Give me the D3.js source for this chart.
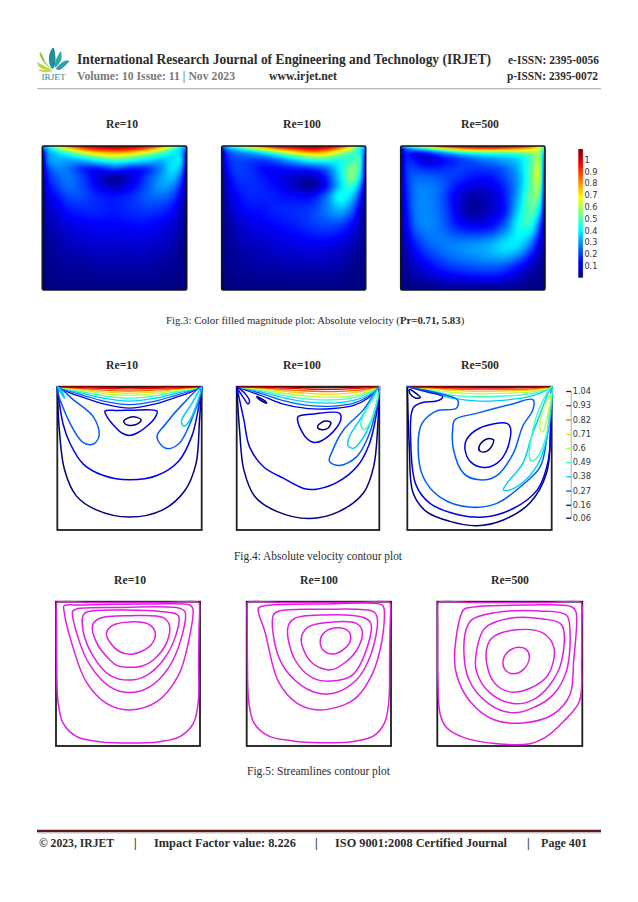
<!DOCTYPE html>
<html>
<head>
<meta charset="utf-8">
<title>IRJET page 401</title>
<script src="https://cdn.jsdelivr.net/npm/d3@7/dist/d3.min.js"></script>
<style>
  html, body { margin: 0; background: #fff; }
  svg { display: block; }
</style>
</head>
<body>
<svg id="page" width="638" height="902"></svg>
<script>
'use strict';

// ---- data ----
const reLabels = ['Re=10', 'Re=100', 'Re=500'];
const colorbarTicks = [0.1, 0.2, 0.3, 0.4, 0.5, 0.6, 0.7, 0.8, 0.9, 1];
const colorbarDomain = [0, 1.09];
const contourLevels = [0.06, 0.16, 0.27, 0.38, 0.49, 0.6, 0.71, 0.82, 0.93, 1.04];

// velocity magnitude sampled across the cavity: % across, % down from the lid
const sampleX = [0, 4, 10, 18, 28, 38, 50, 62, 72, 82, 90, 96, 100];
const sampleDepth = [0, 2, 4, 7, 11, 16, 22, 28, 35, 45, 55, 70, 85, 100];

const velocityRe10 = [
  [.28, .42, .66, .85, .96, 1.03, 1.06, 1.03, .96, .85, .66, .42, .28],
  [.22, .34, .50, .68, .84, .92, .96, .92, .84, .68, .50, .36, .24],
  [.12, .30, .40, .52, .68, .78, .82, .78, .68, .54, .42, .34, .16],
  [.06, .28, .34, .38, .48, .58, .64, .58, .50, .42, .38, .36, .08],
  [.03, .26, .31, .30, .30, .36, .42, .38, .34, .32, .38, .36, .05],
  [.02, .20, .27, .26, .18, .15, .20, .16, .18, .28, .38, .30, .03],
  [.01, .16, .23, .26, .20, .10, .03, .10, .20, .30, .34, .22, .02],
  [.01, .13, .20, .25, .21, .13, .07, .13, .22, .30, .28, .16, .01],
  [.01, .10, .15, .21, .21, .17, .15, .18, .23, .25, .21, .11, .01],
  [0, .07, .10, .15, .17, .17, .16, .18, .19, .18, .14, .07, 0],
  [0, .05, .07, .10, .12, .13, .13, .14, .14, .12, .09, .05, 0],
  [0, .02, .04, .06, .07, .08, .08, .08, .08, .07, .05, .02, 0],
  [0, .01, .02, .03, .03, .04, .04, .04, .04, .03, .02, .01, 0],
  [0, 0, 0, 0, 0, 0, 0, 0, 0, 0, 0, 0, 0]
];

const velocityRe100 = [
  [.25, .40, .58, .74, .88, .98, 1.04, 1.07, 1.04, .94, .74, .45, .28],
  [.16, .28, .38, .50, .66, .80, .90, .96, .92, .78, .60, .42, .26],
  [.06, .22, .28, .34, .44, .58, .72, .82, .78, .64, .52, .40, .18],
  [.04, .18, .23, .25, .28, .36, .50, .60, .60, .50, .46, .44, .10],
  [.03, .16, .20, .20, .18, .22, .30, .38, .40, .42, .48, .46, .06],
  [.02, .14, .20, .19, .15, .14, .16, .18, .24, .40, .54, .44, .04],
  [.01, .11, .18, .19, .16, .12, .08, .06, .16, .38, .54, .38, .03],
  [.01, .09, .16, .18, .17, .14, .08, .03, .14, .36, .46, .28, .02],
  [.01, .07, .13, .17, .17, .16, .14, .14, .24, .42, .36, .18, .01],
  [0, .05, .10, .14, .15, .17, .18, .20, .26, .32, .24, .10, .01],
  [0, .03, .07, .10, .12, .14, .16, .19, .21, .20, .14, .06, 0],
  [0, .02, .04, .06, .07, .09, .10, .11, .11, .09, .06, .03, 0],
  [0, .01, .02, .03, .04, .04, .05, .05, .05, .04, .02, .01, 0],
  [0, 0, 0, 0, 0, 0, 0, 0, 0, 0, 0, 0, 0]
];

const velocityRe500 = [
  [.30, .45, .58, .75, .92, 1.02, 1.06, 1.06, 1.04, .98, .88, .70, .40],
  [.12, .24, .34, .44, .62, .74, .82, .84, .82, .78, .72, .62, .36],
  [.05, .18, .18, .24, .34, .46, .54, .56, .56, .58, .60, .58, .30],
  [.03, .16, .12, .10, .18, .24, .32, .36, .38, .42, .50, .56, .24],
  [.03, .17, .16, .10, .14, .18, .22, .26, .30, .36, .48, .58, .18],
  [.02, .18, .20, .18, .18, .20, .19, .20, .24, .34, .50, .60, .14],
  [.02, .18, .24, .24, .22, .19, .15, .15, .21, .32, .50, .60, .10],
  [.02, .17, .26, .27, .24, .16, .10, .11, .18, .32, .50, .56, .08],
  [.02, .16, .26, .28, .23, .12, .05, .08, .16, .34, .52, .50, .06],
  [.01, .14, .26, .28, .24, .13, .03, .08, .16, .38, .50, .38, .04],
  [.01, .12, .24, .28, .25, .17, .12, .14, .24, .42, .44, .24, .03],
  [.01, .07, .15, .22, .26, .28, .30, .33, .38, .36, .24, .10, .02],
  [0, .03, .07, .11, .16, .19, .21, .22, .20, .13, .06, .03, .01],
  [0, 0, 0, 0, 0, 0, 0, 0, 0, 0, 0, 0, 0]
];

// lid-hugging velocity contours: height (%) at each arcX, one row per level
const arcX = [0, 8, 18, 32, 50, 68, 82, 92, 100];
const arcLevels = [0.16, 0.27, 0.38, 0.49, 0.6, 0.71, 0.82, 0.93, 1.04];
const arcsRe10 = [
  [100, 96, 92.5, 88, 85, 88, 92.5, 96, 100],
  [100, 97, 94, 90, 87.5, 90, 94, 97, 100],
  [100, 97.6, 95.3, 92, 90, 92, 95.3, 97.6, 100],
  [100, 98, 96.3, 93.6, 92, 93.6, 96.3, 98, 100],
  [100, 98.6, 97.3, 95.2, 94, 95.2, 97.3, 98.6, 100],
  [100, 99, 98, 96.4, 95.5, 96.4, 98, 99, 100],
  [100, 99.3, 98.6, 97.6, 97, 97.6, 98.6, 99.3, 100],
  [100, 99.6, 99.2, 98.8, 98.5, 98.8, 99.2, 99.6, 100],
  [100, 100, 100, 99.8, 99.5, 99.8, 100, 100, 100]
];
const arcsRe100 = [
  [100, 97, 93.5, 88, 84.7, 84.8, 87, 92, 100],
  [100, 97.8, 95, 90.5, 87, 86.5, 88.5, 93, 100],
  [100, 98.3, 96.2, 92.4, 89.3, 88.6, 90.5, 94, 100],
  [100, 98.8, 97.2, 94, 91.4, 90.8, 92.3, 95.5, 100],
  [100, 99.2, 98, 95.6, 93.4, 92.8, 94, 96.6, 100],
  [100, 99.4, 98.7, 97, 95.4, 94.8, 95.8, 97.6, 100],
  [100, 99.6, 99.2, 98, 97, 96.6, 97.2, 98.5, 100],
  [100, 99.8, 99.6, 99, 98.4, 98.2, 98.6, 99.3, 100],
  [100, 100, 100, 99.9, 99.5, 99.4, 99.7, 100, 100]
];
const arcsRe500 = [
  null,
  null,
  [100, 97.6, 95.5, 91.8, 90, 90.7, 92.5, 95.5, 100],
  [100, 98.5, 97, 94, 93, 93.5, 94.5, 96.5, 100],
  [100, 99, 98, 96, 95, 95.5, 96, 97.5, 100],
  [100, 99.4, 98.8, 97.4, 96.6, 97, 97.4, 98.4, 100],
  [100, 99.6, 99.2, 98.4, 98, 98, 98.2, 99, 100],
  [100, 99.8, 99.6, 99.2, 99, 99, 99.2, 99.5, 100],
  [100, 100, 100, 99.8, 99.6, 99.6, 99.8, 100, 100]
];

// remaining velocity contours: [level, closed, [x%, height%] ...]
const contoursRe10 = [
  [0.06, false, [[0,100],[1.4,70],[5,42],[13,24],[27,14],[50,9],[73,14],[88,27],[96,46],[98.5,77],[100,100]]],
  [0.16, false, [[0,100],[4,74],[9,60],[18,46],[32,38],[50,35],[69,38],[84,48],[93,65],[97,81],[100,100]]],
  [0.27, true, [[0,100],[9,74],[18,61],[25,60],[29,66],[25,79],[11,91]]],
  [0.27, true, [[100,100],[87,88],[75,74],[69,65],[75,57],[84,60],[93,77]]],
  [0.38, true, [[100,100],[93,88],[86,76],[87.5,72.5],[92,77]]],
  [0.38, true, [[0,100],[3,95],[5,92],[3,97]]],
  [0.16, true, [[33,83],[41,83.4],[50,83.5],[69,83],[68,79],[61,71.5],[55,67.5],[50,66],[45,67.5],[40,72],[34.5,79]]],
  [0.06, true, [[46,76],[52,79],[58,77],[55.5,74],[50,73],[47,74]]]
];
const contoursRe100 = [
  [0.06, false, [[0,100],[2,70],[5,42],[13,23],[28,13],[51,8],[72,13],[89,26],[96,44],[99,74],[100,100]]],
  [0.16, false, [[0,100],[5,77],[9,58],[19,44],[33,36],[47,29],[56,28.5],[70,33],[85,45],[93,60],[98,81],[100,100]]],
  [0.27, true, [[100,100],[89,84],[75,70],[67,55],[65,48],[72,45],[84,51],[93,67],[98,86]]],
  [0.38, true, [[100,100],[89,81],[79,65],[78,59],[82,57],[89,65],[96,81]]],
  [0.49, true, [[99,96],[91,84],[87,74],[89,70],[93,74],[98,88]]],
  [0.16, true, [[0,100],[5,92],[8,88],[9,90],[6,95]]],
  [0.06, true, [[14,93],[20,90],[21,88.5],[16,91]]],
  [0.16, true, [[43,79],[54,81],[72,81.5],[73,77],[65,66],[55,61],[49,64],[43,75]]],
  [0.06, true, [[57,73],[62,76],[66,75],[64,71],[60,70],[57,71]]]
];
const contoursRe500 = [
  [0.06, false, [[0,100],[1.4,58],[4,26],[13,13],[29.5,6],[48,3],[66.5,7],[85,19],[96.5,40],[99.3,70],[100,100]]],
  [0.16, false, [[0,100],[15.6,96],[24.5,93],[20.3,90],[10.6,89],[4,85],[2.5,58],[6,31.5],[15.7,18.6],[36,10.5],[53,9],[73.4,15],[90,28],[97.7,49],[99.3,81.4],[100,100]]],
  [0.06, true, [[1.4,98],[6.5,95],[9,92.5],[6,92],[2,95]]],
  [0.27, false, [[0,100],[27,94],[35,90.5],[34,85],[20,83],[10,74],[7.5,58],[11,37],[22.6,23],[43,16],[62,18.6],[80,31.6],[92,44],[96.5,63],[99.3,88],[100,100]]],
  [0.27, true, [[33,77],[48,81.4],[73,88],[87,91],[87,84],[80,72.6],[73.4,53.5],[62,38],[50,35],[39,39.5],[32,56],[31.4,70]]],
  [0.38, true, [[100,100],[92,81],[86,65],[80,46.5],[69,32.5],[66.5,28],[71,28],[83,36],[92,49],[97.7,70]]],
  [0.49, true, [[100,100],[92,86],[87,70],[84.5,51],[86,48],[91,52],[96.5,67],[99,86]]],
  [0.6, true, [[99.5,95],[94,84],[92,70],[94,68.6],[97,79],[99.5,93]]],
  [0.16, true, [[41,63],[50,71],[69,74.4],[71.5,71],[69,56],[62,46.5],[52.5,43.7],[43.7,47.7],[40,56]]],
  [0.06, true, [[50,59],[55,63.5],[59.6,63],[58.5,58.6],[54,54.6],[50,55.3]]]
];

// streamlines, each closed: [x%, height%]
const streamRe10 = [
  [[0.8,99.5],[25,99.5],[50,99.5],[75,99.5],[99,99.5],[99.6,98],[99.3,80],[99,58.4],[98.8,30.7],[95.4,15.7],[86,6.5],[72,3],[51.4,2],[30.5,3],[14.4,6.5],[5,15.7],[1.4,30.7],[0.5,58.4],[0.4,80],[0.4,98]],
  [[5.5,97],[19,97.7],[65,98.4],[93,97.7],[95,95.4],[92,72],[85,49],[70,30.7],[51.4,25],[35,29.6],[21,44.5],[12,67.7],[5.5,94]],
  [[11.6,93.5],[14.4,95],[42,96],[86,95.4],[89.6,93],[87,74.6],[78,54],[65,41],[51.4,37],[37.5,41],[23.6,56],[15.5,74.6]],
  [[19,90.8],[22,93],[42.5,94.3],[74.5,93],[85,90.3],[83.3,77],[74.5,59.6],[63,49],[51.4,45.7],[37.5,49],[26,62],[19,79]],
  [[25.5,84],[30.5,88.5],[51.4,90.3],[74.5,89],[78.7,84],[77,72],[67.6,59.6],[60,55.5],[51.4,54.5],[43,55.5],[37.5,59.6],[28,72]],
  [[35,78],[39,83.4],[51.4,86],[65,84],[69,78],[66,70],[59,65.5],[51.4,63.5],[44,65.5],[38,71]]
];
const streamRe100 = [
  [[0.8,99.5],[25,99.5],[50,99.5],[75,99.5],[99,99.5],[99.6,98],[99.3,80],[99,58],[98.5,31],[95.5,16],[88,7],[73,3],[51,2.3],[32,3.5],[15,7],[5,16],[1.4,31],[0.5,58],[0.4,80],[0.4,98]],
  [[8,95.4],[11.5,97],[53,98.4],[93.5,98],[95,96],[94,74.6],[86.6,49],[74,32],[51,25],[35,29.6],[22,44.6],[12.7,79]],
  [[18.5,90.8],[23,93.7],[53,94.7],[88,93],[90.5,88.5],[86.6,65],[76,45.7],[60,36.5],[46,37.6],[30,49],[21,65]],
  [[28.4,81.5],[32.4,88],[53,90.8],[81,89],[86,85],[84,70],[73,49],[58,45],[46,47],[33.5,59.6]],
  [[38,75.8],[43,82.7],[60,86],[76,85],[80,80],[77,67.7],[67,57],[58,52.7],[46,57],[39,67.7]],
  [[51,73.4],[54,78.8],[62.4,82],[70.4,79.7],[72,73.4],[68,67.7],[60,63.7],[53,66.5]]
];
const streamRe500 = [
  [[0.8,99.5],[25,99.5],[50,99.5],[75,99.5],[99,99.5],[99.7,98],[99.6,80],[99.5,58.6],[98,31],[87,17],[74.5,6],[64,1.6],[41,1.6],[18,6],[6.5,12.6],[2,22],[0.4,47],[0.3,80],[0.3,98]],
  [[18,94.3],[22.5,96],[64,97.7],[92.6,96.5],[95.6,93],[94,58.6],[91.5,35.6],[80,22],[59,16],[38.6,18.4],[22.5,31],[13.3,49.4],[12,65.5]],
  [[19,77],[23.7,87.4],[41,92.6],[70.8,93.6],[89,90.8],[91.5,79.3],[89,51.7],[80,35.6],[66,26.4],[52.4,23],[36.3,28.7],[21.4,47]],
  [[27,65.5],[32.7,81.6],[50,88.5],[73,88],[85.7,84],[85.7,58.6],[77.7,42.5],[66,32],[52.4,29.4],[36.3,36.8],[27,51.7]],
  [[33.6,63],[37.5,74.7],[54.7,80.5],[73,78.2],[80.5,67.8],[76.5,49.4],[64,40],[50,37.5],[38.6,44.8]],
  [[45.5,59.8],[49,65.5],[55.9,68.5],[61.6,66.7],[63.5,60.9],[59.3,52.9],[52.4,50],[46.7,52.9]]
];

// ---- shared scales and helpers ----
const jetStops = [0, 0.11, 0.125, 0.375, 0.625, 0.875, 1];
const jetColors = ['#00007f', '#0000f0', '#0000ff', '#00ffff', '#ffff00', '#ff0000', '#7f0000'];
const jet = (lo, hi) => d3.scaleLinear()
    .domain(jetStops.map(t => lo + t * (hi - lo)))
    .range(jetColors)
    .clamp(true);
const fieldColor = jet(colorbarDomain[0], colorbarDomain[1]);
const levelColor = jet(contourLevels[0], contourLevels[contourLevels.length - 1]);

const svg = d3.select('#page');
const SERIF = '"Liberation Serif", serif';

function label(txt, x, y, opt) {
  const o = opt || {};
  const t = svg.append('text')
      .attr('x', x)
      .attr('y', y)
      .attr('font-family', o.family || SERIF)
      .attr('font-size', o.size || 11.5)
      .attr('font-weight', o.weight || 'normal')
      .attr('fill', o.fill || '#2c2c2c')
      .attr('text-anchor', o.anchor || 'start')
      .text(txt);
  if (o.len) {
    t.attr('textLength', o.len).attr('lengthAdjust', 'spacingAndGlyphs');
  }
  return t;
}

function panelScales(x0, x1, y0, y1) {
  return {
    x: d3.scaleLinear().domain([0, 100]).range([x0, x1]),
    y: d3.scaleLinear().domain([0, 100]).range([y1, y0]),
    depth: d3.scaleLinear().domain([0, 100]).range([y0, y1])
  };
}

function frame(s, stroke, width, rx) {
  svg.append('rect')
      .attr('x', s.x(0))
      .attr('y', s.y(100))
      .attr('width', s.x(100) - s.x(0))
      .attr('height', s.y(0) - s.y(100))
      .attr('rx', rx)
      .attr('fill', 'none')
      .attr('stroke', stroke)
      .attr('stroke-width', width);
}

function curve(s, pts, closed, stroke, width) {
  const gen = d3.line()
      .x(d => s.x(d[0]))
      .y(d => s.y(d[1]))
      .curve(closed ? d3.curveCatmullRomClosed.alpha(0.5) : d3.curveCatmullRom.alpha(0.5));
  svg.append('path')
      .attr('d', gen(pts))
      .attr('fill', 'none')
      .attr('stroke', stroke)
      .attr('stroke-width', width)
      .attr('stroke-linejoin', 'round');
}

// cubic shading between table samples, only used to paint pixels
function shade(xs, vals, x) {
  const i = Math.min(d3.bisectRight(xs, x) - 1, xs.length - 2);
  const h = xs[i + 1] - xs[i];
  const t = (x - xs[i]) / h;
  const slope = n => {
    const a = Math.max(n - 1, 0);
    const b = Math.min(n + 1, xs.length - 1);
    return (vals[b] - vals[a]) / (xs[b] - xs[a]);
  };
  const t2 = t * t;
  const t3 = t2 * t;
  return (2 * t3 - 3 * t2 + 1) * vals[i] + (t3 - 2 * t2 + t) * h * slope(i)
      + (3 * t2 - 2 * t3) * vals[i + 1] + (t3 - t2) * h * slope(i + 1);
}

// paints one velocity table into a canvas, then hands it to the svg as an image
function fieldImage(s, rows) {
  const k = 2;
  const w = Math.round((s.x(100) - s.x(0)) * k);
  const h = Math.round((s.depth(100) - s.depth(0)) * k);
  const raw = document.createElement('canvas');
  raw.width = w;
  raw.height = h;
  const ctx = raw.getContext('2d');
  const img = ctx.createImageData(w, h);
  for (let i = 0; i < w; i++) {
    const px = (i + 0.5) / w * 100;
    const column = rows.map(row => shade(sampleX, row, px));
    for (let j = 0; j < h; j++) {
      const c = d3.rgb(fieldColor(shade(sampleDepth, column, (j + 0.5) / h * 100)));
      const p = (j * w + i) * 4;
      img.data[p] = c.r;
      img.data[p + 1] = c.g;
      img.data[p + 2] = c.b;
      img.data[p + 3] = 255;
    }
  }
  ctx.putImageData(img, 0, 0);

  const soft = document.createElement('canvas');
  soft.width = w;
  soft.height = h;
  const sctx = soft.getContext('2d');
  sctx.drawImage(raw, 0, 0);
  sctx.filter = 'blur(1.6px)';
  sctx.drawImage(raw, 0, 0);

  svg.append('image')
      .attr('x', s.x(0))
      .attr('y', s.depth(0))
      .attr('width', s.x(100) - s.x(0))
      .attr('height', s.depth(100) - s.depth(0))
      .attr('preserveAspectRatio', 'none')
      .attr('href', soft.toDataURL('image/png'));
}

// ---- header ----
const leafScaleX = d3.scaleLinear().domain([0, 100]).range([37, 70]);
const leafScaleY = d3.scaleLinear().domain([0, 100]).range([47, 80]);
const logoLeaves = [
  ['#1f8f9a', [[46,66],[36,40],[42,10],[50,2],[56,30],[54,56]]],
  ['#2aa7a8', [[54,62],[58,38],[66,22],[72,14],[74,36],[62,56]]],
  ['#2f9fae', [[58,66],[72,50],[86,42],[98,42],[84,58],[66,70]]],
  ['#8cc63f', [[42,66],[26,46],[16,24],[10,16],[8,20],[14,36],[30,56]]],
  ['#b5d334', [[44,70],[26,60],[8,50],[0,46],[6,58],[24,68]]],
  ['#c9d92e', [[46,72],[28,70],[12,68],[4,70],[18,76],[36,76]]]
];
logoLeaves.forEach(([color, pts]) => {
  svg.append('path')
      .attr('d', d3.line()
          .x(d => leafScaleX(d[0]))
          .y(d => leafScaleY(d[1]))
          .curve(d3.curveCatmullRomClosed.alpha(0.5))(pts))
      .attr('fill', color);
});
label('IRJET', 41.5, 79.5, {size: 8.5, fill: '#1f8f9a', len: 24});

label('International Research Journal of Engineering and Technology (IRJET)', 77, 64, {size: 14, weight: 'bold', len: 414});
label('e-ISSN: 2395-0056', 508, 64, {size: 11.5, weight: 'bold', len: 91});
label('Volume: 10 Issue: 11 | Nov  2023', 77, 80, {size: 11.5, weight: 'bold', fill: '#7a7a7a', len: 158});
label('www.irjet.net', 269, 80, {size: 11.5, weight: 'bold', len: 68});
label('p-ISSN: 2395-0072', 507, 80, {size: 11.5, weight: 'bold', len: 91});
svg.append('line')
    .attr('x1', 37).attr('x2', 601).attr('y1', 88.7).attr('y2', 88.7)
    .attr('stroke', '#a8a8a8').attr('stroke-width', 1);

// ---- Fig.3 colour filled panels ----
const heatPanels = [
  [panelScales(42.3, 186.7, 146, 290), velocityRe10, 122],
  [panelScales(221.7, 365.7, 146, 290), velocityRe100, 302],
  [panelScales(400.7, 545, 146, 290), velocityRe500, 480]
];
heatPanels.forEach(([s, rows, cx], i) => {
  label(reLabels[i], cx, 128, {weight: 'bold', anchor: 'middle', len: i ? 38 : 32});
  fieldImage(s, rows);
  frame(s, '#10131c', 1.6, 1.5);
});

// colour bar
const barY = d3.scaleLinear().domain(colorbarDomain).range([277.7, 149]);
const barStops = d3.range(0, 1.0001, 0.02).map(t => colorbarDomain[0] + t * (colorbarDomain[1] - colorbarDomain[0]));
svg.append('defs').append('linearGradient')
    .attr('id', 'barFill')
    .attr('x1', 0).attr('x2', 0).attr('y1', 1).attr('y2', 0)
    .selectAll('stop')
    .data(barStops)
    .join('stop')
      .attr('offset', (d, i) => i / (barStops.length - 1))
      .attr('stop-color', d => fieldColor(d));
svg.append('rect')
    .attr('x', 578.3)
    .attr('y', barY(colorbarDomain[1]))
    .attr('width', 4.6)
    .attr('height', barY(colorbarDomain[0]) - barY(colorbarDomain[1]))
    .attr('fill', 'url(#barFill)');
const barAxis = svg.append('g')
    .attr('transform', 'translate(582.9,0)')
    .call(d3.axisRight(barY).tickValues(colorbarTicks).tickFormat(d => d).tickSize(0).tickPadding(1.5));
barAxis.select('.domain').remove();
barAxis.selectAll('text')
    .attr('font-family', '"DejaVu Sans", sans-serif')
    .attr('font-size', 8.2)
    .attr('fill', '#333');

// one text so the bold part flows on from the plain part, sized to fit without squeezing
const fig3Caption = label('Fig.3: Color filled magnitude plot: Absolute velocity (', 166, 324, {size: 10.8});
fig3Caption.append('tspan').attr('font-weight', 'bold').text('Pr=0.71, 5.83');
fig3Caption.append('tspan').text(')');

// ---- Fig.4 velocity contours ----
const contourPanels = [
  [panelScales(57.3, 201.7, 386.7, 530), arcsRe10, contoursRe10, 122],
  [panelScales(236.7, 379.3, 386.7, 530), arcsRe100, contoursRe100, 302],
  [panelScales(407.3, 551.7, 386.7, 530), arcsRe500, contoursRe500, 480]
];
contourPanels.forEach(([s, arcs, lines, cx], i) => {
  label(reLabels[i], cx, 369, {weight: 'bold', anchor: 'middle', len: i ? 38 : 32});
  frame(s, '#222', 1.8, 0);
  arcs.forEach((row, r) => {
    if (!row) return;
    curve(s, arcX.map((x, n) => [x, row[n]]), false, levelColor(arcLevels[r]), 1.3);
  });
  lines.forEach(([level, closed, pts]) => {
    curve(s, pts, closed, levelColor(level), 1.5);
  });
});

// level legend
const legendY = d3.scaleLinear().domain([0.06, 1.04]).range([517.7, 391]);
const legendAxis = svg.append('g')
    .attr('transform', 'translate(570.7,0)')
    .call(d3.axisRight(legendY).tickValues(contourLevels).tickFormat(d => d).tickSize(0).tickPadding(2));
legendAxis.select('.domain').attr('stroke', '#999').attr('stroke-width', 0.8);
legendAxis.selectAll('.tick line')
    .attr('x1', -4.5)
    .attr('x2', 0.5)
    .attr('stroke-width', 1.3)
    .attr('stroke', d => levelColor(d));
legendAxis.selectAll('text')
    .attr('font-family', '"DejaVu Sans", sans-serif')
    .attr('font-size', 8.2)
    .attr('fill', '#333');

label('Fig.4: Absolute velocity contour plot', 234, 560, {len: 168});

// ---- Fig.5 streamlines ----
const streamPanels = [
  [panelScales(56, 200, 601.7, 746), streamRe10, 130],
  [panelScales(246.7, 391, 601.7, 746), streamRe100, 319],
  [panelScales(437.3, 582.3, 601.7, 746), streamRe500, 510]
];
streamPanels.forEach(([s, lines, cx], i) => {
  label(reLabels[i], cx, 584, {weight: 'bold', anchor: 'middle', len: i ? 38 : 32});
  frame(s, '#1c1c1c', 1.8, 0);
  lines.forEach(pts => curve(s, pts, true, '#e01fe0', 1.5));
});

label('Fig.5: Streamlines contour plot', 247, 775, {len: 143});

// ---- footer ----
svg.append('line')
    .attr('x1', 37).attr('x2', 601).attr('y1', 831).attr('y2', 831)
    .attr('stroke', '#5e1a1e').attr('stroke-width', 2.6);
svg.append('line')
    .attr('x1', 37).attr('x2', 601).attr('y1', 833).attr('y2', 833)
    .attr('stroke', '#b8b0b0').attr('stroke-width', 0.8);
label('© 2023, IRJET', 39, 847, {size: 12, weight: 'bold', len: 75});
label('|', 134, 847, {size: 12, weight: 'bold'});
label('Impact Factor value: 8.226', 154, 847, {size: 12, weight: 'bold', len: 142});
label('|', 315, 847, {size: 12, weight: 'bold'});
label('ISO 9001:2008 Certified Journal', 335, 847, {size: 12, weight: 'bold', len: 172});
label('|', 527, 847, {size: 12, weight: 'bold'});
label('Page 401', 541, 847, {size: 12, weight: 'bold', len: 46});
</script>
</body>
</html>
